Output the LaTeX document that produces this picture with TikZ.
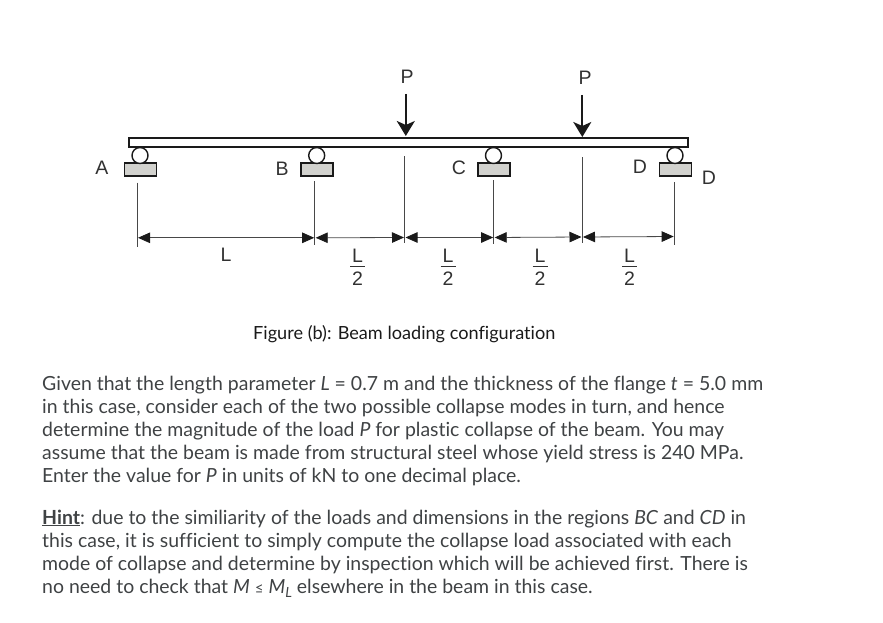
\documentclass[tikz,border=0pt]{standalone}
\usepackage{fontspec}
\setmainfont{Lato}[Ligatures=NoCommon]
\newfontfamily\figfont{Liberation Sans}
\usetikzlibrary{arrows.meta}
\definecolor{txt}{HTML}{3F4244}
\definecolor{ink}{HTML}{1A1A1A}
\definecolor{blockfill}{HTML}{D2D2CE}
\tikzset{
  x=1pt,y=-1pt,
  beam/.style={draw=ink,line width=1.7pt,fill=white,minimum width=559pt,minimum height=8.5pt,inner sep=0,outer sep=0,rectangle},
  roller/.style={circle,draw=ink,line width=1.4pt,fill=white,minimum size=16pt,inner sep=0},
  block/.style={draw=ink,line width=1.4pt,fill=blockfill,minimum width=32pt,minimum height=13pt,inner sep=0},
  ext/.style={draw=ink!80,line width=0.7pt},
  dimline/.style={draw=ink!80,line width=0.8pt,{Triangle[length=12pt,width=10.5pt,fill=ink,color=ink]}-{Triangle[length=12pt,width=10.5pt,fill=ink,color=ink]},shorten >=0.5pt,shorten <=1pt},
  load/.style={draw=ink,line width=2.1pt,-{Stealth[length=15pt,width=18pt,inset=4pt,fill=ink,color=ink]}},
  figlabel/.style={font=\figfont\fontsize{19.5}{19.5}\selectfont,text=ink!90,inner sep=0},
  para/.style={font=\fontsize{19.45}{23}\selectfont,text=txt,anchor=base west,inner sep=0},
  captext/.style={font=\fontsize{18.13}{22}\selectfont,text=ink,anchor=base west,inner sep=0}
}
\newcommand{\halfL}{\vbox{\hsize=15pt\offinterlineskip\hbox to 15pt{\hfil L\hfil}\kern3.2pt\hrule height 1.1pt\kern5pt\hbox to 15pt{\hfil 2\hfil}}}
\begin{document}
\begin{tikzpicture}
\useasboundingbox (0,0) rectangle (883,623);
% beam
\node[beam] (beam) at (408.3,142.5) {};
% rollers and blocks
\node[block] (blockA) at (140.5,169.5) {};
\node[block] (blockB) at (316.8,169.5) {};
\node[block] (blockC) at (494,169.5) {};
\node[block] (blockD) at (675.7,169.5) {};
\node[roller] (rollA) at (140,155.5) {};
\node[roller] (rollB) at (316.7,155.5) {};
\node[roller] (rollC) at (493.5,155.5) {};
\node[roller] (rollD) at (675,155.5) {};
% support labels
\node[figlabel] (lA) at (102,168) {A};
\node[figlabel] (lB) at (282,169) {B};
\node[figlabel] (lC) at (459,168) {C};
\node[figlabel] (lD) at (640,167) {D};
\node[figlabel] (lDD) at (709,178) {D};
% loads
\node[figlabel] (P1) at (407,77) {P};
\node[figlabel] (P2) at (585,78) {P};
\coordinate (P1t) at (405.8,94);
\coordinate (P1b) at (405.8,136);
\coordinate (P2t) at (582.3,95);
\coordinate (P2b) at (582.3,137);
\draw[load] (P1t) -- (P1b);
\draw[load] (P2t) -- (P2b);
% extension lines
\coordinate (eAt) at (137,182.5);  \coordinate (eAb) at (137,246.5);
\coordinate (eBt) at (314.7,181);  \coordinate (eBb) at (314.7,245);
\coordinate (ePt) at (404.5,156);  \coordinate (ePb) at (404.5,243);
\coordinate (eCt) at (493.7,180);  \coordinate (eCb) at (493.7,244);
\coordinate (eQt) at (582,157);    \coordinate (eQb) at (582,243);
\coordinate (eDt) at (674.2,182);  \coordinate (eDb) at (674.2,245);
\draw[ext] (eAt) -- (eAb);
\draw[ext] (eBt) -- (eBb);
\draw[ext] (ePt) -- (ePb);
\draw[ext] (eCt) -- (eCb);
\draw[ext] (eQt) -- (eQb);
\draw[ext] (eDt) -- (eDb);
% dimension lines
\coordinate (d1) at (137,237.8);
\coordinate (d2) at (314.7,237.8);
\coordinate (d3) at (404.5,237.5);
\coordinate (d4) at (493.7,237.5);
\coordinate (d5) at (582,237);
\coordinate (d6) at (674.2,236.5);
\draw[dimline] (d1) -- (d2);
\draw[dimline] (d2) -- (d3);
\draw[dimline] (d3) -- (d4);
\draw[dimline] (d4) -- (d5);
\draw[dimline] (d5) -- (d6);
% dimension labels
\node[figlabel] (dL) at (226,255) {L};
\node[figlabel] (h1) at (357.5,267.5) {\halfL};
\node[figlabel] (h2) at (448,267.5) {\halfL};
\node[figlabel] (h3) at (540,267.5) {\halfL};
\node[figlabel] (h4) at (629.5,267.5) {\halfL};
% caption
\node[captext] (captiontext) at (253,339) {Figure (b): Beam loading configuration};
% paragraph
\node[para] (t1) at (42,390) {Given that the length parameter \textit{L} = 0.7 m and the thickness of the flange \textit{t} = 5.0 mm};
\node[para] (t2) at (42,413) {in this case, consider each of the two possible collapse modes in turn, and hence};
\node[para] (t3) at (42,436) {determine the magnitude of the load \textit{P} for plastic collapse of the beam. You may};
\node[para] (t4) at (42,459) {assume that the beam is made from structural steel whose yield stress is 240 MPa.};
\node[para] (t5) at (42,482) {Enter the value for \textit{P} in units of kN to one decimal place.};
% hint
\node[para] (h1t) at (42,524) {\underline{\textbf{Hint}}: due to the similiarity of the loads and dimensions in the regions \textit{BC} and \textit{CD} in};
\node[para] (h2t) at (42,547) {this case, it is sufficient to simply compute the collapse load associated with each};
\node[para] (h3t) at (42,570) {mode of collapse and determine by inspection which will be achieved first. There is};
\node[para] (h4t) at (42,593) {no need to check that \textit{M} {\fontsize{15}{15}\selectfont ≤} \textit{M}\raisebox{-4pt}{\fontsize{14}{14}\selectfont\textit{L}} elsewhere in the beam in this case.};
\end{tikzpicture}
\end{document}
